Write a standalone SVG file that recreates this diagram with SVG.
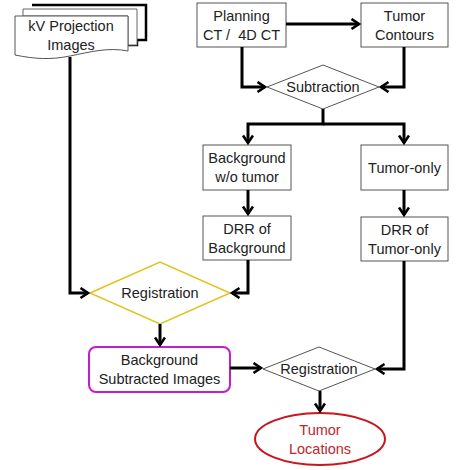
<svg xmlns="http://www.w3.org/2000/svg" width="474" height="470" viewBox="0 0 474 470">
<defs>
<marker id="ah" markerUnits="userSpaceOnUse" markerWidth="14" markerHeight="14" refX="9.5" refY="6" orient="auto">
<path d="M2,1 L9.5,6 L2,11" fill="none" stroke="#000" stroke-width="2.6" stroke-linejoin="miter"/>
</marker>
<style>
.box{fill:#fff;stroke:#555;stroke-width:1}
.t{font-family:"Liberation Sans",Arial,sans-serif;font-size:14.5px;fill:#222;text-anchor:middle}
.c{fill:none;stroke:#000;stroke-width:3}
</style>
</defs>
<rect width="474" height="470" fill="#fff"/>
<g id="kv">
<path d="M32,5 H146 V40 H137 V45 H128" fill="#fff" stroke="#000" stroke-width="2.5"/>
<path d="M23,9 H137 V45 H128 V16 H23 Z" fill="#fff" stroke="#666" stroke-width="1"/>
<path d="M15,16 H128 V51 C108,47 90,52 70,56 C50,60 35,59 15,55 Z" class="box"/>
<text class="t" x="71" y="31">kV Projection</text>
<text class="t" x="71" y="50">Images</text>
</g>
<g id="planning">
<rect class="box" x="197" y="3" width="89" height="44"/>
<text class="t" x="241.5" y="21">Planning</text>
<text class="t" x="241.5" y="40">CT /&#160; 4D CT</text>
</g>
<g id="contours">
<rect class="box" x="361" y="3" width="87" height="44"/>
<text class="t" x="404.5" y="21">Tumor</text>
<text class="t" x="404.5" y="40">Contours</text>
</g>
<g id="subtraction">
<path class="box" d="M267,87 L323,65 L379,87 L323,109 Z"/>
<text class="t" x="323" y="92">Subtraction</text>
</g>
<g id="background">
<rect class="box" x="203" y="145" width="88" height="45"/>
<text class="t" x="247" y="163">Background</text>
<text class="t" x="247" y="182">w/o tumor</text>
</g>
<g id="tumoronly">
<rect class="box" x="361" y="145" width="87" height="45"/>
<text class="t" x="404.5" y="173">Tumor-only</text>
</g>
<g id="drrbg">
<rect class="box" x="203" y="216" width="88" height="44"/>
<text class="t" x="247" y="234">DRR of</text>
<text class="t" x="247" y="253">Background</text>
</g>
<g id="drrtumor">
<rect class="box" x="361" y="217" width="87" height="44"/>
<text class="t" x="404.5" y="235">DRR of</text>
<text class="t" x="404.5" y="254">Tumor-only</text>
</g>
<g id="reg1">
<path d="M90,293 L160,262 L230,293 L160,324 Z" fill="#fff" stroke="#e2c21e" stroke-width="1.5"/>
<text class="t" x="160" y="298">Registration</text>
</g>
<g id="bgsub">
<rect x="89" y="347" width="141" height="45" rx="7" ry="7" fill="#fff" stroke="#c21fc8" stroke-width="2"/>
<text class="t" x="159.5" y="365">Background</text>
<text class="t" x="159.5" y="384">Subtracted Images</text>
</g>
<g id="reg2">
<path class="box" d="M263,369 L319,347 L375,369 L319,391 Z"/>
<text class="t" x="319" y="374">Registration</text>
</g>
<g id="locations">
<ellipse cx="320" cy="439" rx="65" ry="26" fill="#fff" stroke="#c8161e" stroke-width="2"/>
<text class="t" x="320" y="435" style="fill:#c0262c">Tumor</text>
<text class="t" x="320" y="454" style="fill:#c0262c">Locations</text>
</g>
<g id="connectors">
<path class="c" d="M286,24 H359" marker-end="url(#ah)"/>
<path class="c" d="M242,47 V87 H265" marker-end="url(#ah)"/>
<path class="c" d="M404,47 V87 H381" marker-end="url(#ah)"/>
<path class="c" d="M323,109 V124 H248 V143" marker-end="url(#ah)"/>
<path class="c" d="M323,124 H404 V143" marker-end="url(#ah)"/>
<path class="c" d="M248,190 V214" marker-end="url(#ah)"/>
<path class="c" d="M404,190 V215" marker-end="url(#ah)"/>
<path class="c" d="M248,260 V293 H232" marker-end="url(#ah)"/>
<path class="c" d="M70,57 V293 H88" marker-end="url(#ah)"/>
<path class="c" d="M160,324 V345" marker-end="url(#ah)"/>
<path class="c" d="M230,368 H261" marker-end="url(#ah)"/>
<path class="c" d="M404,261 V369 H377" marker-end="url(#ah)"/>
<path class="c" d="M320,391 V411" marker-end="url(#ah)"/>
</g>
</svg>
